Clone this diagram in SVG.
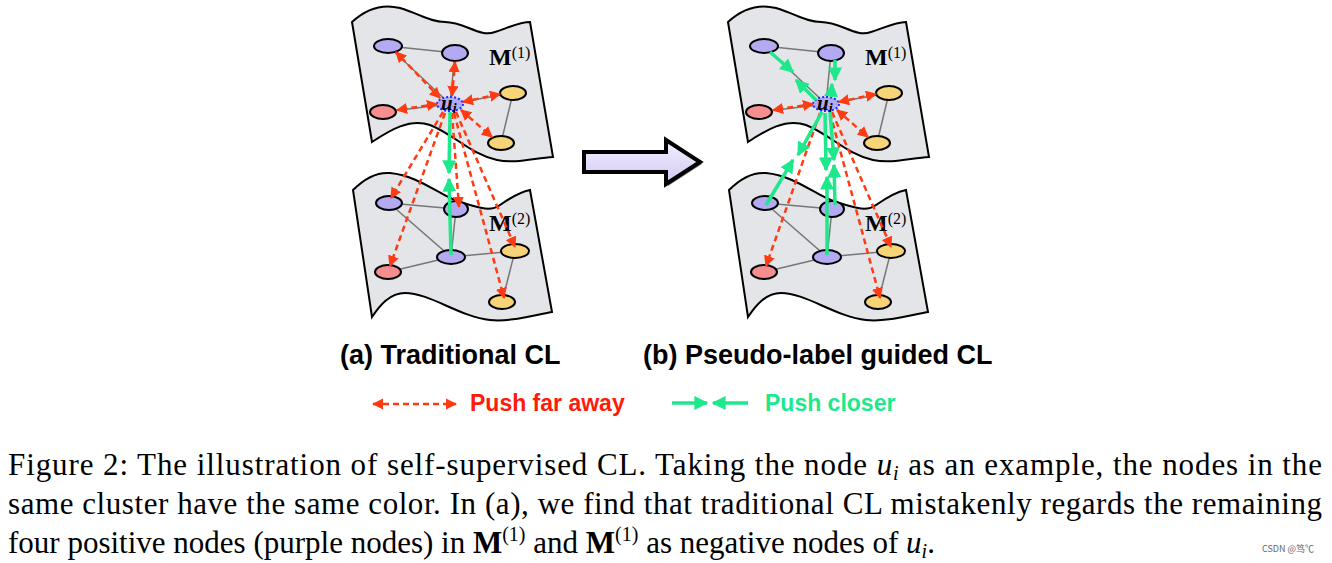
<svg xmlns="http://www.w3.org/2000/svg" width="1332" height="563" viewBox="0 0 1332 563">
<defs>
<marker id="ra" viewBox="0 0 10 10" refX="9" refY="5" markerWidth="4.5" markerHeight="4.5" orient="auto-start-reverse"><path d="M0,0L10,5L0,10z" fill="#ff3b12"/></marker>
<marker id="ga" viewBox="0 0 10 10" refX="9" refY="5" markerWidth="4" markerHeight="4" orient="auto"><path d="M0,0L10,5L0,10z" fill="#1de98c"/></marker>
<linearGradient id="ag" x1="0" y1="0" x2="0" y2="1"><stop offset="0" stop-color="#f4f0ff"/><stop offset="1" stop-color="#d2c8f2"/></linearGradient>
<style>
.sheet{fill:#e4e5e8;stroke:#000;stroke-width:2}
.e{stroke:#777;stroke-width:1.5}
.pu{fill:#b3aaf2;stroke:#000;stroke-width:2}
.rd{fill:#f58e8e;stroke:#000;stroke-width:2}
.ye{fill:#f6d477;stroke:#000;stroke-width:2}
.ui{fill:#b3aaf2;stroke:#1830ff;stroke-width:2;stroke-dasharray:2 2}
.r{stroke:#ff3b12;stroke-width:2.5;stroke-dasharray:6 4;fill:none;marker-end:url(#ra)}
.r2{marker-start:url(#ra)}
.g{stroke:#1de98c;stroke-width:3.5;fill:none;marker-end:url(#ga)}
.lab{font-family:"Liberation Sans",Arial,sans-serif;font-weight:bold;font-size:27px}
.cap{font-family:"Liberation Serif","Times New Roman",serif;font-size:31px}
.m{font-family:"Liberation Serif",serif;font-weight:bold;font-size:24px}
.sup{font-weight:normal;font-size:16px}
</style>
</defs>
<g id="sheet">
<path class="sheet" d="M352,22 C365,10 380,3 400,8 C420,14 430,22 445,22 C465,22 480,38 495,32 C510,27 520,22 530,22 L553,157 C535,158 515,164 497,160 C470,154 455,135 430,125 C410,118 390,130 372,142 Z"/>
</g>
<g id="sheet2">
<path class="sheet" d="M353,190 C365,178 378,172 390,173 C420,176 440,196 460,202 C480,208 490,212 500,205 C510,198 520,192 530,190 L552,312 C530,316 510,322 490,320 C460,317 430,293 405,293 C390,293 380,305 372,317 Z"/>
</g>
<g id="panelA">
<g id="edgesA">
<line class="e" x1="388" y1="46" x2="455" y2="53"/>
<line class="e" x1="388" y1="46" x2="450" y2="104"/>
<line class="e" x1="455" y1="53" x2="450" y2="104"/>
<line class="e" x1="383" y1="112" x2="450" y2="104"/>
<line class="e" x1="513" y1="93" x2="450" y2="104"/>
<line class="e" x1="513" y1="93" x2="501" y2="143"/>
<line class="e" x1="389" y1="203" x2="456" y2="209"/>
<line class="e" x1="389" y1="203" x2="451" y2="257"/>
<line class="e" x1="456" y1="209" x2="451" y2="257"/>
<line class="e" x1="388" y1="272" x2="451" y2="257"/>
<line class="e" x1="515" y1="251" x2="451" y2="257"/>
<line class="e" x1="515" y1="251" x2="502" y2="302"/>
</g>
<g id="nodesA">
<ellipse class="pu" cx="388" cy="46" rx="14" ry="7"/>
<ellipse class="pu" cx="455" cy="53" rx="13" ry="8"/>
<ellipse class="rd" cx="383" cy="112" rx="13" ry="7"/>
<ellipse class="ye" cx="513" cy="93" rx="13" ry="7"/>
<ellipse class="ye" cx="501" cy="143" rx="13" ry="7"/>
<ellipse class="pu" cx="389" cy="203" rx="13" ry="7"/>
<ellipse class="pu" cx="456" cy="209" rx="12" ry="8"/>
<ellipse class="pu" cx="451" cy="257" rx="14" ry="7"/>
<ellipse class="rd" cx="388" cy="272" rx="13" ry="7"/>
<ellipse class="ye" cx="515" cy="251" rx="14" ry="7"/>
<ellipse class="ye" cx="502" cy="302" rx="13" ry="7"/>
<ellipse class="ui" cx="450" cy="104" rx="13" ry="7"/>
<text x="441" y="110" font-family="Liberation Serif,serif" font-style="italic" font-weight="bold" font-size="21">u<tspan font-size="14" dy="3">i</tspan></text>
<text class="m" x="489" y="65">M<tspan class="sup" dy="-7">(1)</tspan></text>
<text class="m" x="489" y="231">M<tspan class="sup" dy="-7">(2)</tspan></text>
</g>
<g id="connA">
<line class="r r2" x1="440" y1="98" x2="396" y2="52"/>
<line class="r r2" x1="452" y1="96" x2="455" y2="62"/>
<line class="r r2" x1="437" y1="104" x2="397" y2="110"/>
<line class="r r2" x1="463" y1="102" x2="500" y2="94"/>
<line class="r r2" x1="461" y1="110" x2="492" y2="137"/>
<line class="r" x1="443" y1="112" x2="391" y2="198"/>
<line class="r" x1="445" y1="113" x2="390" y2="266"/>
<line class="r" x1="452" y1="113" x2="459" y2="207"/>
<line class="r" x1="456" y1="112" x2="515" y2="247"/>
<line class="r" x1="454" y1="113" x2="504" y2="298"/>
<line class="g" x1="450" y1="112" x2="449" y2="173"/>
<line class="g" x1="451" y1="255" x2="449" y2="179"/>
</g>
</g>
<g id="panelB">
<use href="#sheet" transform="translate(376,0)"/>
<use href="#sheet2" transform="translate(376,0)"/>
<use href="#edgesA" transform="translate(376,0)"/>
<use href="#nodesA" transform="translate(376,0)"/>
<g id="connB">
<line class="r r2" x1="813" y1="104" x2="773" y2="110"/>
<line class="r r2" x1="839" y1="102" x2="876" y2="94"/>
<line class="r r2" x1="837" y1="110" x2="868" y2="137"/>
<line class="r" x1="820" y1="113" x2="766" y2="266"/>
<line class="r" x1="832" y1="112" x2="891" y2="247"/>
<line class="r" x1="830" y1="113" x2="880" y2="298"/>
<line class="g" x1="770" y1="52" x2="793" y2="72"/>
<line class="g" x1="816" y1="100" x2="796" y2="80"/>
<line class="g" x1="835" y1="60" x2="835" y2="80"/>
<line class="g" x1="831" y1="97" x2="832" y2="84"/>
<line class="g" x1="822" y1="112" x2="798" y2="155"/>
<line class="g" x1="766" y1="205" x2="793" y2="160"/>
<line class="g" x1="825" y1="113" x2="826" y2="170"/>
<line class="g" x1="827" y1="255" x2="827" y2="177"/>
<line class="g" x1="830" y1="112" x2="834" y2="160"/>
<line class="g" x1="835" y1="205" x2="834" y2="165"/>
</g>
</g>
<g id="bigArrow">
<path d="M586,154 H668 V142 L702,164 L668,186 V174 H586 Z" fill="#777"/>
<path d="M584,152 H666 V140 L700,162 L666,184 V172 H584 Z" fill="url(#ag)" stroke="#000" stroke-width="4"/>
</g>
<g id="labels">
<text class="lab" x="340" y="364">(a) Traditional CL</text>
<text class="lab" x="643" y="364">(b) Pseudo-label guided CL</text>
</g>
<g id="legend">
<line class="r r2" x1="373" y1="404" x2="456" y2="404" stroke-width="2"/>
<text x="470" y="411" font-family="Liberation Sans,Arial,sans-serif" font-weight="bold" font-size="23" fill="#ff1a0a">Push far away</text>
<line class="g" x1="672" y1="403" x2="707" y2="403" stroke-width="2.5"/>
<line class="g" x1="748" y1="403" x2="713" y2="403" stroke-width="2.5"/>
<text x="765" y="411" font-family="Liberation Sans,Arial,sans-serif" font-weight="bold" font-size="23" fill="#1de98c">Push closer</text>
</g>
<g id="caption">
<text class="cap" x="8" y="475" textLength="1314" lengthAdjust="spacing">Figure 2: The illustration of self-supervised CL. Taking the node <tspan font-style="italic">u</tspan><tspan font-style="italic" font-size="20" dy="5">i</tspan><tspan dy="-5"> as an example, the nodes in the</tspan></text>
<text class="cap" x="8" y="514" textLength="1314" lengthAdjust="spacing">same cluster have the same color. In (a), we find that traditional CL mistakenly regards the remaining</text>
<text class="cap" x="8" y="553">four positive nodes (purple nodes) in <tspan font-weight="bold">M</tspan><tspan font-size="20" dy="-12">(1)</tspan><tspan dy="12"> and </tspan><tspan font-weight="bold">M</tspan><tspan font-size="20" dy="-12">(1)</tspan><tspan dy="12"> as negative nodes of </tspan><tspan font-style="italic">u</tspan><tspan font-style="italic" font-size="20" dy="5">i</tspan><tspan dy="-5">.</tspan></text>
<text x="1262" y="552" font-family="Noto Sans CJK SC,sans-serif" font-size="9" fill="#666">CSDN @笃℃</text>
</g>
</svg>
